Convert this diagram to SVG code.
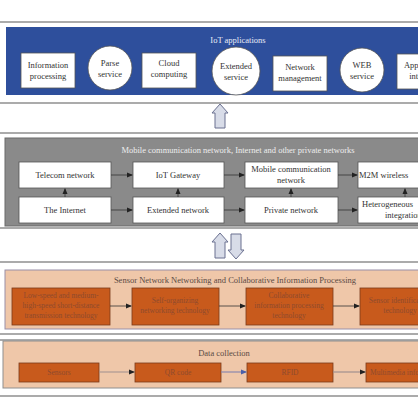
<svg xmlns="http://www.w3.org/2000/svg" width="418" height="418" viewBox="0 0 418 418">
<defs>
<marker id="ah" markerWidth="6" markerHeight="6" refX="5" refY="3" orient="auto" markerUnits="userSpaceOnUse"><path d="M0,0.5 L6,3 L0,5.5 Z" fill="#222"/></marker>
<marker id="ahb" markerWidth="6" markerHeight="6" refX="5" refY="3" orient="auto" markerUnits="userSpaceOnUse"><path d="M0,0.5 L6,3 L0,5.5 Z" fill="#4a5fa8"/></marker>
</defs>
<style>
text{font-family:"Liberation Serif","DejaVu Serif",serif;font-size:8.5px;text-anchor:middle}
.frame{stroke:#8f8f8f;stroke-width:1.5}
.wb{fill:#fff;stroke:#555;stroke-width:0.8}
.wt{fill:#333}
.ob{fill:#c85a1c;stroke:#7a3a1a;stroke-width:0.8}
.ot{fill:#8e4a2e;font-size:7.5px}
.ln{stroke:#333;stroke-width:0.8;fill:none;marker-end:url(#ah)}
.big{fill:#d8dce8;stroke:#6a7090;stroke-width:1}
</style>
<rect width="418" height="418" fill="#fff"/>
<!-- frames -->
<line class="frame" x1="0" y1="22" x2="418" y2="22"/>
<line class="frame" x1="0" y1="103" x2="418" y2="103"/>
<line class="frame" x1="0" y1="133" x2="418" y2="133"/>
<line class="frame" x1="0" y1="228" x2="418" y2="228"/>
<line class="frame" x1="0" y1="262" x2="418" y2="262"/>
<line class="frame" x1="0" y1="334" x2="418" y2="334"/>
<line class="frame" x1="0" y1="340" x2="418" y2="340"/>
<line class="frame" x1="0" y1="396" x2="418" y2="396"/>
<!-- panels -->
<g id="panel-iot">
<rect x="6" y="27" width="420" height="68" fill="#2e4f9c"/>
<text x="238" y="43" fill="#e8ecf6" font-size="9">IoT applications</text>
</g>
<g id="panel-net">
<rect x="5" y="138" width="420" height="88" fill="#8a8a8a" stroke="#6a6a6a" stroke-width="1"/>
<text x="238" y="153" fill="#eee" font-size="9">Mobile communication network, Internet and other private networks</text>
</g>
<g id="panel-sensor">
<rect x="5" y="270" width="420" height="59" fill="#efc7a9" stroke="#9a90a8" stroke-width="1"/>
<text x="235" y="283" fill="#5a4a44" font-size="9">Sensor Network Networking and Collaborative Information Processing</text>
</g>
<g id="panel-data">
<rect x="3" y="341" width="420" height="47" fill="#efc7a9" stroke="#8f8f8f" stroke-width="1"/>
<text x="224" y="356" fill="#5a4a44" font-size="9">Data collection</text>
</g>
<!-- top nodes -->
<g id="n-info"><rect class="wb" x="21" y="53" width="54" height="35"/><text class="wt" x="48" y="68">Information</text><text class="wt" x="48" y="79">processing</text></g>
<g id="n-parse"><circle class="wb" cx="110" cy="68" r="22"/><text class="wt" x="110" y="66">Parse</text><text class="wt" x="110" y="77">service</text></g>
<g id="n-cloud"><rect class="wb" x="142" y="53" width="54" height="35"/><text class="wt" x="169" y="66">Cloud</text><text class="wt" x="169" y="77">computing</text></g>
<g id="n-ext"><circle class="wb" cx="236" cy="71" r="24"/><text class="wt" x="236" y="69">Extended</text><text class="wt" x="236" y="80">service</text></g>
<g id="n-netman"><rect class="wb" x="273" y="56" width="54" height="35"/><text class="wt" x="300" y="70">Network</text><text class="wt" x="300" y="81">management</text></g>
<g id="n-web"><circle class="wb" cx="362" cy="70" r="22"/><text class="wt" x="362" y="68">WEB</text><text class="wt" x="362" y="79">service</text></g>
<g id="n-app"><rect class="wb" x="397" y="54" width="54" height="35"/><text class="wt" x="424" y="68">Application</text><text class="wt" x="424" y="79">interface</text></g>
<!-- big arrows -->
<g id="arrow-up1"><path class="big" d="M220,104 L228,113 L225,113 L225,128 L215,128 L215,113 L212,113 Z"/></g>
<g id="arrow-updown">
<path class="big" d="M220,233 L228,242 L225,242 L225,258 L215,258 L215,242 L212,242 Z"/>
<path class="big" d="M236,259 L244,250 L241,250 L241,234 L231,234 L231,250 L228,250 Z"/>
</g>
<!-- network nodes -->
<g id="n-telecom"><rect class="wb" x="19" y="162" width="92" height="26"/><text class="wt" x="65" y="178">Telecom network</text></g>
<g id="n-internet"><rect class="wb" x="19" y="197" width="92" height="26"/><text class="wt" x="65" y="213">The Internet</text></g>
<g id="n-gateway"><rect class="wb" x="133" y="162" width="91" height="26"/><text class="wt" x="178" y="178">IoT Gateway</text></g>
<g id="n-extnet"><rect class="wb" x="133" y="197" width="91" height="26"/><text class="wt" x="178" y="213">Extended network</text></g>
<g id="n-mobile"><rect class="wb" x="245" y="162" width="93" height="26"/><text class="wt" x="291" y="172">Mobile communication</text><text class="wt" x="291" y="183">network</text></g>
<g id="n-private"><rect class="wb" x="245" y="197" width="93" height="26"/><text class="wt" x="291" y="213">Private network</text></g>
<g id="n-m2m"><rect class="wb" x="358" y="162" width="92" height="26"/><text class="wt" x="359" y="178" style="text-anchor:start">M2M wireless</text></g>
<g id="n-hetero"><rect class="wb" x="358" y="197" width="92" height="26"/><text class="wt" x="362" y="207" style="text-anchor:start">Heterogeneous</text><text class="wt" x="385" y="218" style="text-anchor:start">integration</text></g>
<!-- sensor nodes -->
<g id="n-lowspeed"><rect class="ob" x="12" y="288" width="98" height="37"/><text class="ot" x="61" y="298">Low-speed and medium-</text><text class="ot" x="61" y="308">high-speed short-distance</text><text class="ot" x="61" y="318">transmission technology</text></g>
<g id="n-selforg"><rect class="ob" x="132" y="288" width="87" height="37"/><text class="ot" x="175" y="303">Self-organizing</text><text class="ot" x="175" y="313">networking technology</text></g>
<g id="n-collab"><rect class="ob" x="246" y="288" width="87" height="37"/><text class="ot" x="289" y="298">Collaborative</text><text class="ot" x="289" y="308">information processing</text><text class="ot" x="289" y="318">technology</text></g>
<g id="n-sensorid"><rect class="ob" x="360" y="288" width="80" height="37"/><text class="ot" x="400" y="303">Sensor identification</text><text class="ot" x="400" y="313">technology</text></g>
<!-- data nodes -->
<g id="n-sensors"><rect class="ob" x="19" y="363" width="80" height="19"/><text class="ot" x="59" y="375">Sensors</text></g>
<g id="n-qr"><rect class="ob" x="135" y="363" width="86" height="19"/><text class="ot" x="178" y="375">QR code</text></g>
<g id="n-rfid"><rect class="ob" x="247" y="363" width="86" height="19"/><text class="ot" x="290" y="375">RFID</text></g>
<g id="n-media"><rect class="ob" x="366" y="363" width="80" height="19"/><text class="ot" x="370" y="375" style="text-anchor:start">Multimedia information</text></g>
<!-- connectors -->
<g id="connectors">
<line class="ln" x1="111" y1="175" x2="132" y2="175"/>
<line class="ln" x1="224" y1="175" x2="244" y2="175"/>
<line class="ln" x1="338" y1="175" x2="357" y2="175"/>
<line class="ln" x1="111" y1="210" x2="132" y2="210"/>
<line class="ln" x1="224" y1="210" x2="244" y2="210"/>
<line class="ln" x1="338" y1="210" x2="357" y2="210"/>
<line class="ln" x1="65" y1="197" x2="65" y2="189"/>
<line class="ln" x1="178" y1="197" x2="178" y2="189"/>
<line class="ln" x1="291" y1="197" x2="291" y2="189"/>
<line class="ln" x1="405" y1="197" x2="405" y2="189"/>
<line class="ln" x1="110" y1="306" x2="131" y2="306"/>
<line class="ln" x1="219" y1="306" x2="245" y2="306"/>
<line class="ln" x1="333" y1="306" x2="359" y2="306"/>
<line x1="99" y1="372" x2="134" y2="372" stroke="#a09090" stroke-width="1.2" marker-end="url(#ah)"/>
<line x1="221" y1="372" x2="246" y2="372" stroke="#8a88b0" stroke-width="1.2" marker-end="url(#ahb)"/>
<line x1="333" y1="372" x2="365" y2="372" stroke="#a09090" stroke-width="1.2" marker-end="url(#ah)"/>
</g>
</svg>
